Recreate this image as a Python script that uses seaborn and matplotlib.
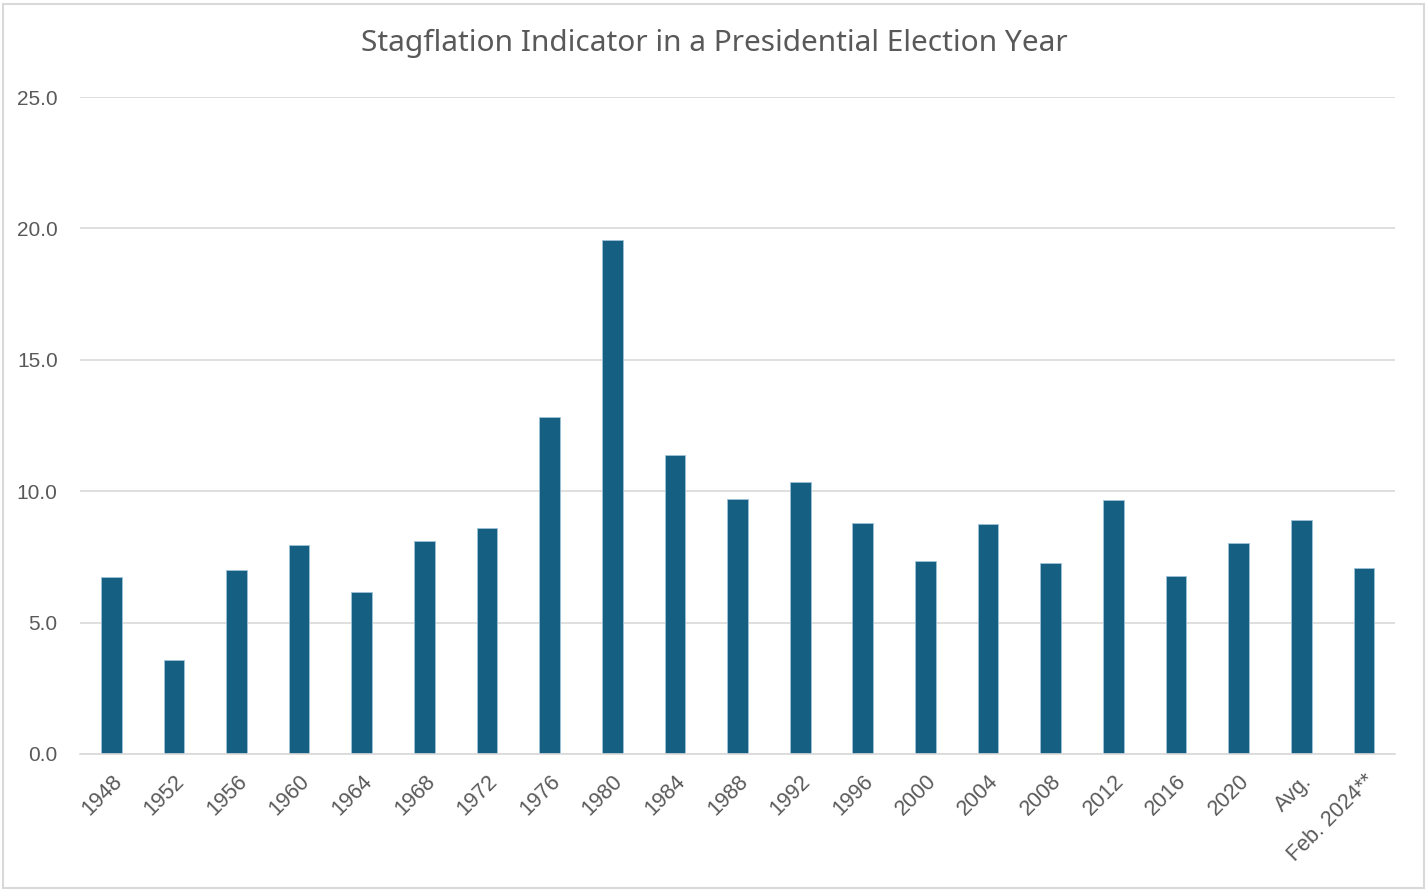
import pandas as pd
import numpy as np
import matplotlib.pyplot as plt
import seaborn as sns

# 数据
years = ['1948', '1952', '1956', '1960', '1964', '1968', '1972', '1976', '1980',
         '1984', '1988', '1992', '1996', '2000', '2004', '2008', '2012', '2016',
         '2020', 'Avg.', 'Feb. 2024**']
values = [6.73, 3.58, 7.0, 7.95, 6.16, 8.1, 8.6, 12.82, 19.56,
          11.38, 9.7, 10.35, 8.79, 7.34, 8.75, 7.27, 9.67, 6.77,
          8.03, 8.9, 7.08]

df = pd.DataFrame({'year': years, 'value': values})

sns.set_theme(style='white')
plt.rcParams['font.family'] = ['Liberation Sans', 'DejaVu Sans']

fig = plt.figure(figsize=(14.28, 8.91), dpi=100)
ax = fig.add_axes([0.056, 0.1538, 0.921, 0.7373])

sns.barplot(data=df, x='year', y='value', color='#155F82', width=0.33,
            saturation=1, edgecolor='#9fc3d6', linewidth=0.6, ax=ax)

ax.set_ylim(0, 25)
ax.set_yticks([0, 5, 10, 15, 20, 25])
ax.set_yticklabels([f'{v:.1f}' for v in [0, 5, 10, 15, 20, 25]])
ax.set_xlim(-0.5, len(years) - 0.5)
ax.yaxis.grid(True, color='#d9d9d9', linewidth=1.2)
ax.set_axisbelow(True)
for s in ['top', 'right', 'left']:
    ax.spines[s].set_visible(False)
ax.spines['bottom'].set_color('#d9d9d9')
ax.spines['bottom'].set_linewidth(1.2)

ax.set_xlabel('')
ax.set_ylabel('')
ax.tick_params(axis='x', length=0, colors='#595959', labelsize=15.5, pad=12)
ax.tick_params(axis='y', length=0, colors='#595959', labelsize=15, pad=16)
plt.setp(ax.get_xticklabels(), rotation=45, ha='right', rotation_mode='anchor')

fig.text(0.5, 0.951, 'Stagflation Indicator in a Presidential Election Year',
         ha='center', va='center', fontsize=21.5, color='#595959', family=['Noto Sans', 'DejaVu Sans'])

# 图框
fig.patches.append(plt.Rectangle((0.002, 0.003), 0.995, 0.993, transform=fig.transFigure,
                                 fill=False, edgecolor='#d9d9d9', linewidth=1.5))

plt.savefig('out.png', dpi=100)
